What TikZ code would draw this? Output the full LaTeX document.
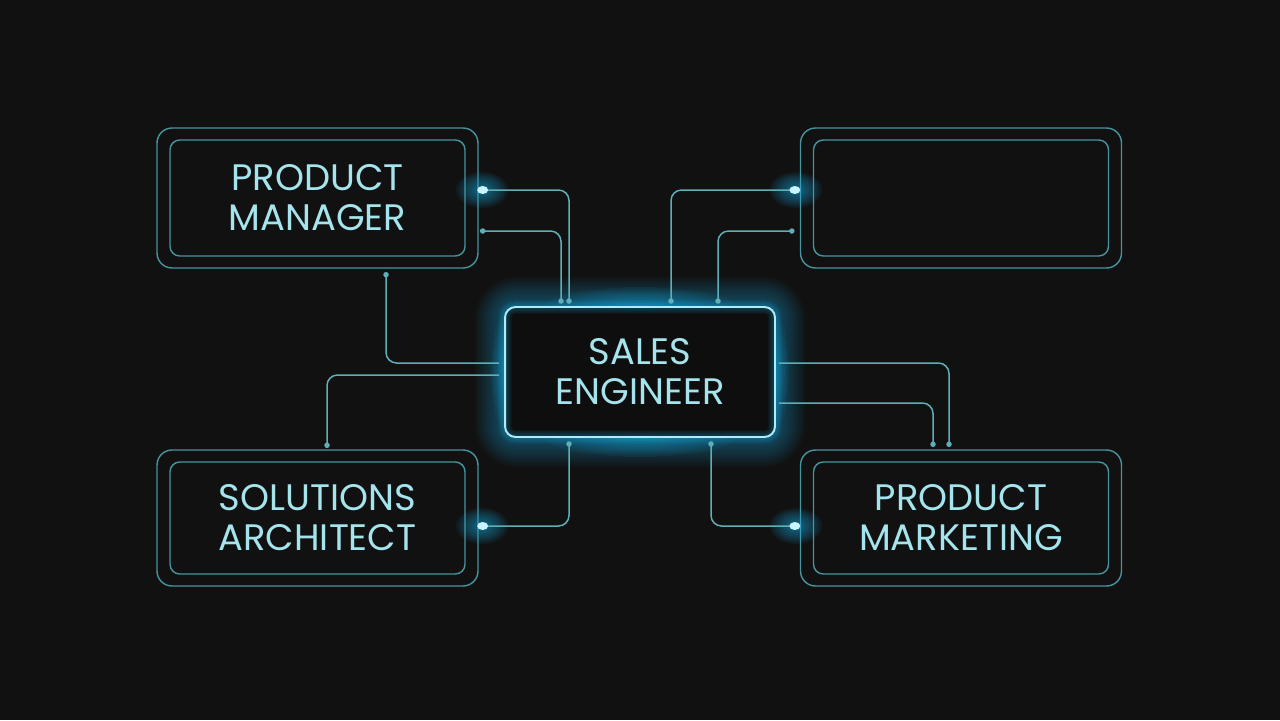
\documentclass[tikz,border=0pt]{standalone}
\usepackage{fontspec}
\setmainfont{Poppins}
\usetikzlibrary{calc}
\definecolor{bg}{RGB}{17,17,17}
\definecolor{frame}{RGB}{70,148,158}
\definecolor{wire}{RGB}{95,175,185}
\definecolor{txt}{RGB}{165,228,236}
\definecolor{glow}{RGB}{30,180,235}
\definecolor{hot}{RGB}{200,245,255}
\definecolor{seedge}{RGB}{175,235,250}
\newcommand\glowspot[5]{% x, y, rx, ry (px), opacity
  \foreach \k in {1,...,10}{\fill[glow,opacity=#5] (#1,#2) ellipse ({#3*\k*0.002 cm} and {#4*\k*0.002 cm});}}
\begin{document}
\begin{tikzpicture}[x=0.02cm,y=-0.02cm,
  outerbox/.style={draw=frame,line width=0.8pt,rounded corners=8.5pt,minimum width=6.42cm,inner sep=0pt},
  innerbox/.style={draw=frame,line width=0.8pt,rounded corners=5.5pt,minimum width=5.9cm,inner sep=0pt,
     text=txt,align=center,font=\fontsize{21}{22.7}\selectfont},
  centerbox/.style={draw=seedge,line width=1.1pt,rounded corners=6pt,minimum width=5.4cm,minimum height=2.6cm,
     text=txt,align=center,font=\fontsize{21}{22.7}\selectfont,inner sep=0pt},
  conn/.style={draw=wire,line width=0.85pt,rounded corners=6pt},
  dot/.style={fill=wire},
]
\fill[bg] (0,0) rectangle (1280,720);
\useasboundingbox (0,0) rectangle (1280,720);

% --- frames
\node[outerbox,minimum height=2.8cm] (pmo) at (317.5,198) {};
\node[innerbox,minimum height=2.32cm] (pm) at (317.5,198) {PRODUCT\\MANAGER};
\node[outerbox,minimum height=2.8cm] (tro) at (961,198) {};
\node[innerbox,minimum height=2.32cm] (tr) at (961,198) {};
\node[outerbox,minimum height=2.72cm] (sao) at (317.5,518) {};
\node[innerbox,minimum height=2.24cm] (sa) at (317.5,518) {SOLUTIONS\\ARCHITECT};
\node[outerbox,minimum height=2.72cm] (pko) at (961,518) {};
\node[innerbox,minimum height=2.24cm] (pk) at (961,518) {PRODUCT\\MARKETING};

% --- glow of central box
\coordinate (sec) at (640,372);
\foreach \d in {2,4,...,30}{
  \fill[glow,opacity=0.03,rounded corners={(6+\d*0.6)*1pt}]
    ($(sec)+(-135-\d,-65-\d)$) rectangle ($(sec)+(135+\d,65+\d)$);}
\glowspot{640}{307}{95}{20}{0.06}
\glowspot{640}{437}{95}{20}{0.06}
\glowspot{505}{372}{14}{55}{0.05}
\glowspot{775}{372}{14}{55}{0.05}
\glowspot{482}{190}{26}{18}{0.07}
\glowspot{482}{526}{26}{18}{0.07}
\glowspot{796}{190}{26}{18}{0.07}
\glowspot{796}{526}{26}{18}{0.07}
% dark interior with faint inner glow
\fill[bg!80!black,rounded corners=6pt] ($(sec)+(-135,-65)$) rectangle ($(sec)+(135,65)$);
\foreach \d in {2,4,...,14}{
  \draw[glow,opacity=0.05,line width={\d*0.55pt},rounded corners=6pt] ($(sec)+(-135,-65)$) rectangle ($(sec)+(135,65)$);}

\node[centerbox] (se) at (640,372) {SALES\\ENGINEER};

% --- connector end points
\coordinate (a1) at ($(pmo.east)+(4,-8)$);
\coordinate (a2) at ($(se.north)+(-71,-5)$);
\coordinate (b1) at ($(pmo.east)+(4,33)$);
\coordinate (b2) at ($(se.north)+(-79,-5)$);
\coordinate (c1) at ($(tro.west)+(-5,-8)$);
\coordinate (c2) at ($(se.north)+(31,-5)$);
\coordinate (d1) at ($(tro.west)+(-8,33)$);
\coordinate (d2) at ($(se.north)+(78,-5)$);
\coordinate (e1) at ($(se.west)+(-5,-9)$);
\coordinate (e2) at ($(pmo.south)+(68.5,6)$);
\coordinate (f1) at ($(se.west)+(-5,3)$);
\coordinate (f2) at ($(sao.north)+(9.5,-4)$);
\coordinate (g1) at ($(se.south)+(-71,6)$);
\coordinate (g2) at ($(sao.east)+(4,8)$);
\coordinate (h1) at ($(se.south)+(71,6)$);
\coordinate (h2) at ($(pko.west)+(-5,8)$);
\coordinate (i1) at ($(se.east)+(3,-9)$);
\coordinate (i2) at ($(pko.north)+(-12,-5)$);
\coordinate (j1) at ($(se.east)+(3,31)$);
\coordinate (j2) at ($(pko.north)+(-28,-5)$);

% --- connectors
\draw[conn] (a1) -| (a2);
\draw[conn] (b1) -| (b2);
\draw[conn] (c1) -| (c2);
\draw[conn] (d1) -| (d2);
\draw[conn] (e1) -| (e2);
\draw[conn] (f1) -| (f2);
\draw[conn] (g1) |- (g2);
\draw[conn] (h1) |- (h2);
\draw[conn] (i1) -| (i2);
\draw[conn] (j1) -| (j2);

% --- end dots
\foreach \p in {a2,b1,b2,c2,d1,d2,e2,f2,g1,h1,i2,j2}
  \fill[dot] (\p) circle (0.055cm);
\foreach \p in {a1,c1,g2,h2}
  \fill[hot] (\p) ellipse (0.11cm and 0.08cm);
\end{tikzpicture}
\end{document}
